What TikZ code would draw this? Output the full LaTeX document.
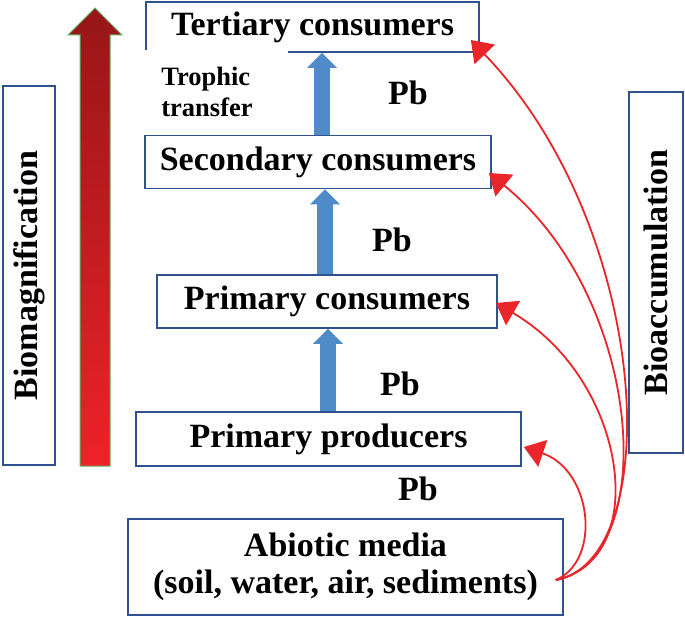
\documentclass[tikz,border=0pt]{standalone}
\usepackage{fontspec}
\setmainfont{Liberation Serif}
\usetikzlibrary{arrows.meta,calc}
\definecolor{boxblue}{RGB}{47,82,143}
\definecolor{flowblue}{RGB}{79,139,201}
\definecolor{curvered}{RGB}{234,38,42}
\definecolor{darkred}{RGB}{150,22,24}
\definecolor{brightred}{RGB}{238,34,40}
\definecolor{edgegreen}{RGB}{96,178,96}
\begin{document}
\begin{tikzpicture}[x=1pt,y=-1pt,
  level/.style={draw=boxblue, line width=1.7pt, fill=white, inner sep=0pt,
    font=\fontsize{34}{37}\selectfont\bfseries, align=center},
  side/.style={level, rotate=90},
  pblabel/.style={font=\fontsize{34}{37}\selectfont\bfseries, inner sep=0pt},
  ttlabel/.style={fill=white, inner sep=0pt, align=left,
    font=\fontsize{26.5}{31}\selectfont\bfseries},
  flow/.style={draw=flowblue, line width=16pt, -{Triangle[length=15pt,width=29pt]}},
  uptake/.style={draw=curvered, line width=1.8pt, -{Triangle[length=20pt,width=28pt]}}]
\useasboundingbox (0,0) rectangle (685,617);
% big gradient arrow
\path[top color=darkred, bottom color=brightred, draw=edgegreen, line width=1pt]
  (80,466) -- (80,35) -- (68,35) -- (95,8) -- (122,35) -- (110,35) -- (110,466) -- cycle;
% side boxes
\node[side, minimum width=379, minimum height=52] (bm) at (29,275.5) {Biomagnification};
\node[side, minimum width=361, minimum height=54] (ba) at (656,272.5) {Bioaccumulation};
% levels
\node[level, minimum width=333, minimum height=50] (tc) at (312.5,27) {Tertiary consumers};
\node[level, minimum width=346, minimum height=53] (sc) at (318,162) {Secondary consumers};
\node[level, minimum width=340, minimum height=53] (pc) at (327,301.5) {Primary consumers};
\node[level, minimum width=385, minimum height=54] (pp) at (328.5,439) {Primary producers};
\node[level, minimum width=435, minimum height=96] (am) at (345.5,567) {Abiotic media\\(soil, water, air, sediments)};
% trophic transfer label (white patch over the corner of the top box)
\node[ttlabel, minimum width=162, minimum height=83] (tt) at (207,91.5) {Trophic\\transfer};
% Pb labels
\node[pblabel] (pb1) at (418,489) {Pb};
\node[pblabel] (pb2) at (400,384) {Pb};
\node[pblabel] (pb3) at (392,240) {Pb};
\node[pblabel] (pb4) at (408,93) {Pb};
% trophic flows
\draw[flow] ([xshift=1pt]pp.north -| pc.south) -- ([xshift=1pt]pc.south);
\draw[flow] ([xshift=-2pt]pc.north) -- ([xshift=-2pt]pc.north |- sc.south);
\draw[flow] ([xshift=4pt]sc.north) -- ([xshift=4pt]sc.north |- tc.south);
% uptake curves
\coordinate (src)  at ([xshift=-8pt,yshift=-13pt]am.east);
\coordinate (tipT) at ([xshift=-9pt,yshift=-13pt]tc.east);
\coordinate (tipS) at ([xshift=-3pt,yshift=-11pt]sc.east);
\coordinate (tipP) at ([xshift=-2pt,yshift=-1.5pt]pc.east);
\coordinate (tipR) at ([xshift=2pt,yshift=-8pt]pp.east);
\draw[uptake] (src) .. controls (666,560) and (653,230) .. (tipT);
\draw[uptake] (src) .. controls (660,560) and (645,300) .. (tipS);
\draw[uptake] (src) .. controls (652,560) and (628,380) .. (tipP);
\draw[uptake] (src) .. controls (602,560) and (592,470) .. (tipR);
\end{tikzpicture}
\end{document}
